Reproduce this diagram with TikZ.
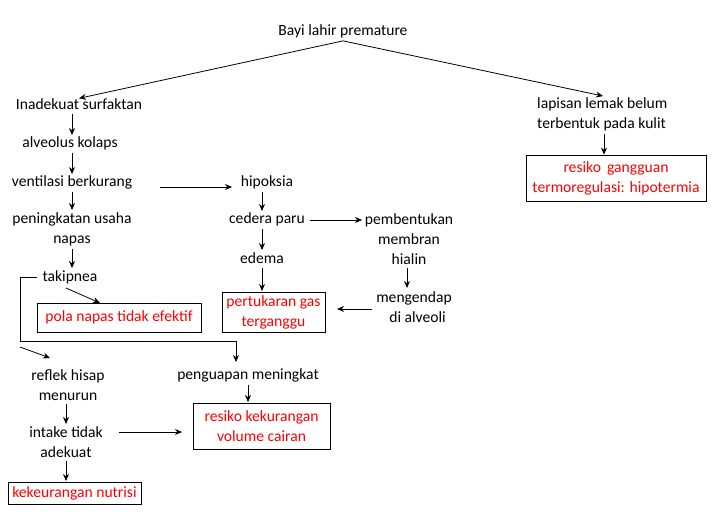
\documentclass[tikz,border=0pt]{standalone}
\usepackage{fontspec}
\setmainfont{Carlito}
\usetikzlibrary{arrows.meta}
\begin{document}
\begin{tikzpicture}[x=1pt,y=-1pt,
  t/.style={inner sep=0pt,font=\fontsize{15.6}{20}\selectfont,align=center},
  r/.style={t,text=red},
  box/.style={draw,line width=0.8pt},
  ar/.style={-{Stealth[length=7pt,width=6pt]},line width=0.8pt},
  ln/.style={line width=0.8pt}]
\useasboundingbox (0,0) rectangle (717,525);
\node[t] (bayi) at (343,31) {Bayi lahir premature};
\node[t] (inad) at (79,104) {Inadekuat surfaktan};
\node[t,align=left,anchor=west] (lap) at (537,114) {lapisan lemak belum\\ terbentuk pada kulit};
\node[box,minimum width=180pt,minimum height=46pt] (termo) at (616,178) {};
\node[r] at (termo) {resiko\, gangguan\\termoregulasi: hipotermia};
\node[t] (alv) at (70,143) {alveolus kolaps};
\node[t] (vent) at (72,182) {ventilasi berkurang};
\node[t] (hip) at (267,182) {hipoksia};
\node[t] (pen) at (72,229) {peningkatan usaha\\napas};
\node[t] (ced) at (267,219) {cedera paru};
\node[t] (pem) at (409,239) {pembentukan\\membran\\hialin};
\node[t] (ede) at (262,258) {edema};
\node[box,minimum width=103pt,minimum height=40pt] (pert) at (273.5,312) {};
\node[r] at (pert) {pertukaran gas\\terganggu};
\node[t] (meng) at (414,307) {mengendap\\\ \ di alveoli};
\node[t] (tak) at (70,277) {takipnea};
\node[box,minimum width=164pt,minimum height=29pt] (pola) at (119,317.5) {};
\node[r] at (pola) {pola napas tidak efektif};
\node[t] (ref) at (68,385) {reflek hisap\\menurun};
\node[t] (peng) at (248,375) {penguapan meningkat};
\node[box,minimum width=137pt,minimum height=46pt] (vol) at (261.5,426) {};
\node[r] at (vol) {resiko kekurangan\\volume cairan};
\node[t] (int) at (66,442) {intake tidak\\adekuat};
\node[box,minimum width=133pt,minimum height=22pt] (nut) at (74.5,493) {};
\node[r] at (nut) {kekeurangan nutrisi};
\coordinate (c1) at (20,277);
\coordinate (c2) at (20,341);
\coordinate (c3) at (236,341);
\coordinate (c4) at (20,347);
\draw[ar] (bayi.south) ++(0,3) -- (inad.north);
\draw[ar] (bayi.south) ++(0,3) -- (603,96);
\draw[ar] (604,134) -- (termo.north -| 604,0);
\draw[ar] (72,114) -- (72,135);
\draw[ar] (72,153) -- (72,174);
\draw[ar] (160,187) -- (232,187);
\draw[ar] (262,192) -- (262,211);
\draw[ar] (72,192) -- (72,210);
\draw[ar] (310,220) -- (362,220);
\draw[ar] (262,229) -- (262,250);
\draw[ar] (262,268) -- (262,291);
\draw[ar] (407,268) -- (407,288);
\draw[ar] (372,309) -- (337,309);
\draw[ar] (72,249) -- (72,268);
\draw[ar] (66,288) -- (100,303);
\draw[ln] (37,277) -- (c1) -- (c2) -- (c3);
\draw[ar] (c3) -- (236,362);
\draw[ar] (c4) -- (50,358);
\draw[ar] (248,385) -- (248,402);
\draw[ar] (66,404) -- (66,424);
\draw[ar] (119,432) -- (182,432);
\draw[ar] (66,461) -- (66,481);
\end{tikzpicture}
\end{document}
